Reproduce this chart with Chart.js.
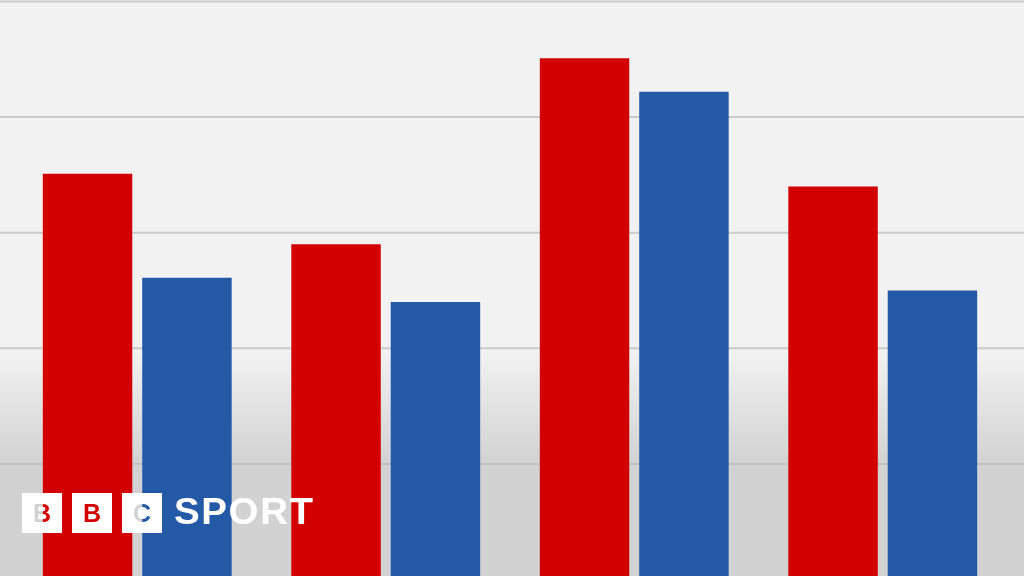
<!DOCTYPE html>
<html>
<head>
<meta charset="utf-8">
<script src="https://cdn.jsdelivr.net/npm/chart.js@4/dist/chart.umd.min.js"></script>
<style>
  html, body { margin: 0; padding: 0; overflow: hidden; }
  #wrap {
    position: relative;
    width: 1024px;
    height: 576px;
    overflow: hidden;
    isolation: isolate;
    background: linear-gradient(to bottom, #f2f2f2 0px, #f2f2f2 350px, #d2d2d2 464px, #d2d2d2 576px);
  }
  #box { position: absolute; left: 0; top: 0; width: 1024px; height: 580px; }
  #logo {
    position: absolute;
    left: 0; top: 0; width: 400px; height: 576px;
    mix-blend-mode: screen;
  }
  .blk {
    position: absolute;
    top: 492.5px;
    width: 40px;
    height: 40px;
    background: #fff;
    color: #000;
    font: bold 25px "Liberation Sans", Arial, sans-serif;
    line-height: 41px;
    text-align: center;
  }
  .sport {
    position: absolute;
    left: 174px;
    top: 493.5px;
    color: #fff;
    font: bold 36px "Liberation Sans", Arial, sans-serif;
    line-height: 36px;
    letter-spacing: 1.5px;
    transform: scaleX(1.07);
    transform-origin: 0 0;
  }
</style>
</head>
<body>
<div id="wrap">
  <div id="box"><canvas id="bars"></canvas></div>
  <div id="logo">
    <div class="blk" style="left:22px">B</div>
    <div class="blk" style="left:72px">B</div>
    <div class="blk" style="left:122px">C</div>
    <div class="sport">SPORT</div>
  </div>
</div>
<script>
// Values (gridlines every 10)
const categories = ["1", "2", "3", "4"];
const redValues = [35.1, 29.0, 45.1, 34.0];
const blueValues = [26.1, 24.0, 42.2, 25.0];
const gridTicks = [0, 10, 20, 30, 40, 50];

const barChart = document.getElementById("bars");

// gridlines run edge to edge, past the chart area
const fullWidthGrid = {
  id: "fullWidthGrid",
  beforeDatasetsDraw(chart) {
    const { ctx } = chart;
    const yScale = chart.scales.y;
    ctx.save();
    ctx.lineWidth = 2;
    gridTicks.forEach((v) => {
      const y = yScale.getPixelForValue(v);
      // lower line sits on the darker part of the backdrop
      ctx.strokeStyle = v <= 10 ? "#c2c2c2" : "#cbcbcb";
      ctx.beginPath();
      ctx.moveTo(0, y);
      ctx.lineTo(chart.width, y);
      ctx.stroke();
    });
    ctx.restore();
  },
};

new Chart(barChart, {
  type: "bar",
  data: {
    labels: categories,
    datasets: [
      {
        label: "Red",
        data: redValues,
        backgroundColor: "#d20000",
        borderWidth: 0,
      },
      {
        label: "Blue",
        data: blueValues,
        backgroundColor: "#2459a6",
        borderWidth: 0,
      },
    ],
  },
  plugins: [fullWidthGrid],
  options: {
    responsive: true,
    maintainAspectRatio: false,
    animation: false,
    layout: { padding: { left: 13, right: 17, top: 1.5, bottom: 0.5 } },
    plugins: {
      legend: { display: false },
      tooltip: { enabled: false },
    },
    scales: {
      x: { display: false },
      y: {
        min: gridTicks[0],
        max: gridTicks[gridTicks.length - 1],
        afterFit: (scale) => {
          scale.width = 0;
        },
        ticks: { display: false, stepSize: 10 },
        border: { display: false },
        grid: { display: false },
      },
    },
  },
});
</script>
</body>
</html>
